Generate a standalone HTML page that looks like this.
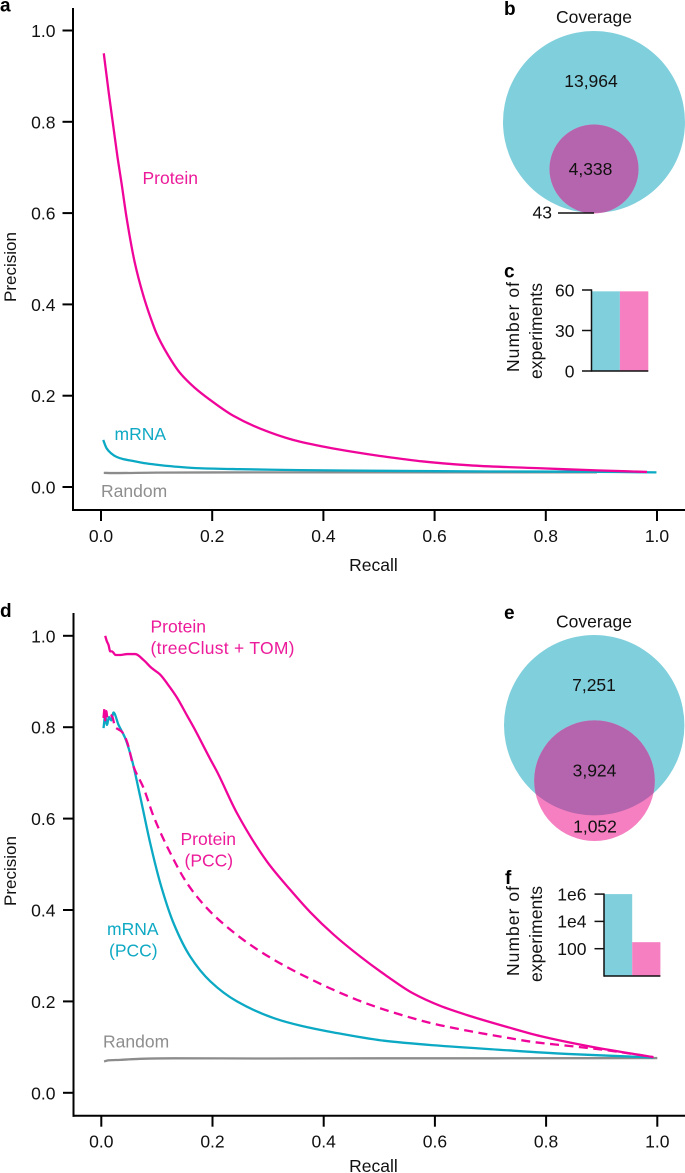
<!DOCTYPE html>
<html lang="en">
<head>
<meta charset="utf-8">
<title>Precision-recall curves</title>
<style>
html,body{margin:0;padding:0;background:#fff;}
svg{display:block;}
text{font-family:"Liberation Sans",Arial,sans-serif;font-size:17.5px;fill:#111;}
.panel{font-weight:bold;font-size:19px;fill:#000;}
.pink{fill:#ec1b9a;}
.teal{fill:#10a9c4;}
.gray{fill:#8e8e8e;}
.ytitle{font-size:17px;}
</style>
</head>
<body>
<svg id="fig" xmlns="http://www.w3.org/2000/svg" width="685" height="1173" viewBox="0 0 685 1173">
  <defs>
    <clipPath id="clip-b"><circle cx="594" cy="122" r="91"/></clipPath>
    <clipPath id="clip-e"><circle cx="594.2" cy="725.2" r="90.2"/></clipPath>
  </defs>

  <text class="panel" x="0" y="11.5">a</text>
  <text class="panel" x="504" y="15">b</text>
  <text class="panel" x="504" y="277.5">c</text>
  <text class="panel" x="0" y="617">d</text>
  <text class="panel" x="504" y="619">e</text>
  <text class="panel" x="505" y="884">f</text>

  <g id="chart-a"></g>
  <g id="chart-d"></g>

  <text class="ytitle" x="16" y="267" text-anchor="middle" transform="rotate(-90 16 267)">Precision</text>
  <text x="373.5" y="571" text-anchor="middle">Recall</text>
  <text class="ytitle" x="16" y="871" text-anchor="middle" transform="rotate(-90 16 871)">Precision</text>
  <text x="373.5" y="1172" text-anchor="middle">Recall</text>

  <text class="pink" x="142.5" y="184">Protein</text>
  <text class="teal" x="114.5" y="440">mRNA</text>
  <text class="gray" x="101" y="497">Random</text>

  <text class="pink" x="150.5" y="632.5">Protein</text>
  <text class="pink" x="150.5" y="654" textLength="144">(treeClust + TOM)</text>
  <text class="pink" x="180.5" y="845">Protein</text>
  <text class="pink" x="184.5" y="866.5">(PCC)</text>
  <text class="teal" x="107" y="935">mRNA</text>
  <text class="teal" x="109" y="956.5">(PCC)</text>
  <text class="gray" x="103" y="1047.5">Random</text>

  <g>
    <text x="594" y="23" text-anchor="middle">Coverage</text>
    <circle cx="594" cy="122" r="91" fill="#80cfdc"/>
    <circle cx="594" cy="169" r="44.5" fill="#f57fc1"/>
    <circle cx="594" cy="169" r="44.5" fill="#b565ad" clip-path="url(#clip-b)"/>
    <text x="591" y="87" text-anchor="middle">13,964</text>
    <text x="590.5" y="175" text-anchor="middle">4,338</text>
    <text x="532.5" y="218.5">43</text>
    <line x1="558" y1="213" x2="594" y2="213" stroke="#111" stroke-width="1.5"/>
  </g>

  <g>
    <text x="594" y="627.5" text-anchor="middle">Coverage</text>
    <circle cx="594.2" cy="725.2" r="90.2" fill="#80cfdc"/>
    <circle cx="594.5" cy="780.7" r="60.3" fill="#f57fc1"/>
    <circle cx="594.5" cy="780.7" r="60.3" fill="#b565ad" clip-path="url(#clip-e)"/>
    <text x="594" y="691" text-anchor="middle">7,251</text>
    <text x="594.5" y="776.5" text-anchor="middle">3,924</text>
    <text x="595" y="832.5" text-anchor="middle">1,052</text>
  </g>

  <g id="chart-c">
    <text x="0" y="0" text-anchor="middle" textLength="90" transform="translate(519 327) rotate(-90)">Number of</text>
    <text x="0" y="0" text-anchor="middle" textLength="96" transform="translate(542 331) rotate(-90)">experiments</text>
  </g>
  <g id="chart-f">
    <text x="0" y="0" text-anchor="middle" textLength="90" transform="translate(519 931) rotate(-90)">Number of</text>
    <text x="0" y="0" text-anchor="middle" textLength="96" transform="translate(542 934) rotate(-90)">experiments</text>
  </g>
</svg>
<script>
// Shared tick values
const curveTicks = [0, 0.2, 0.4, 0.6, 0.8, 1.0];
const curveTickLabels = ["0.0", "0.2", "0.4", "0.6", "0.8", "1.0"];

// Panel a series
const aProteinRecall = [0.005,0.0138,0.0216,0.03,0.037,0.046,0.061,0.076,0.09,0.100,0.120,0.142,0.168,0.196,0.238,0.286,0.346,0.406,0.448,0.502,0.579,0.669,0.79,0.892,0.982];
const aProteinPrecision = [0.95,0.865,0.795,0.72,0.665,0.59,0.49,0.42,0.368,0.336,0.29,0.25,0.218,0.191,0.156,0.128,0.103,0.087,0.078,0.068,0.056,0.047,0.041,0.0365,0.033];
const aMrnaRecall = [0.004,0.01,0.018,0.028,0.04,0.058,0.08,0.106,0.14,0.178,0.25,0.358,0.5,0.7,0.85,0.999];
const aMrnaPrecision = [0.103,0.085,0.074,0.066,0.061,0.057,0.052,0.048,0.044,0.041,0.039,0.037,0.0355,0.034,0.0335,0.032];
const aRandomRecall = [0.005,0.02,0.1,0.3,0.5,0.7,0.892];
const aRandomPrecision = [0.031,0.0305,0.0315,0.032,0.032,0.032,0.032];

// Panel d series
const dTreeRecall = [0.007,0.010,0.013,0.016,0.019,0.026,0.034,0.047,0.061,0.076,0.09,0.106,0.12,0.136,0.154,0.166,0.196,0.208,0.244,0.298,0.340,0.376,0.418,0.466,0.514,0.56,0.61,0.658,0.73,0.79,0.885,0.993];
const dTreePrecision = [1.0,0.988,0.98,0.966,0.966,0.958,0.958,0.96,0.96,0.947,0.93,0.915,0.893,0.865,0.826,0.80,0.73,0.703,0.612,0.506,0.444,0.395,0.346,0.298,0.255,0.218,0.190,0.170,0.144,0.124,0.100,0.078];
const dPccRecall = [0.004,0.006,0.007,0.009,0.011,0.016,0.02,0.025,0.031,0.037,0.046,0.058,0.076,0.094,0.124,0.154,0.19,0.232,0.28,0.334,0.376,0.418,0.478,0.538,0.598,0.658,0.718,0.778,0.838,0.91,0.993];
const dPccPrecision = [0.82,0.842,0.815,0.835,0.82,0.827,0.822,0.80,0.795,0.79,0.769,0.714,0.667,0.605,0.525,0.459,0.404,0.357,0.314,0.275,0.249,0.225,0.195,0.171,0.151,0.136,0.123,0.111,0.103,0.093,0.078];
const dMrnaRecall = [0.004,0.007,0.01,0.014,0.018,0.022,0.031,0.043,0.055,0.07,0.088,0.106,0.13,0.16,0.196,0.244,0.316,0.358,0.418,0.508,0.598,0.718,0.838,0.957,0.993];
const dMrnaPrecision = [0.798,0.825,0.805,0.822,0.815,0.832,0.805,0.776,0.729,0.648,0.546,0.459,0.371,0.298,0.244,0.2,0.161,0.147,0.132,0.114,0.104,0.094,0.085,0.079,0.077];
const dRandomRecall = [0.005,0.012,0.034,0.07,0.13,0.3,0.5,0.7,1.0];
const dRandomPrecision = [0.0685,0.071,0.072,0.0744,0.0755,0.075,0.0755,0.0755,0.076];

// Panel c bars
const cCategories = ["mRNA", "Protein"];
const cValues = [59, 59];
const cTicks = [0, 30, 60];
const cTickLabels = ["0", "30", "60"];

// Panel f bars (log scale)
const fCategories = ["mRNA", "Protein"];
const fValues = [1000000, 300];
const fTicks = [100, 10000, 1000000];
const fTickLabels = ["100", "1e4", "1e6"];

const NS = "http://www.w3.org/2000/svg";
const PINK = "#f0059a", TEAL = "#0ba9c4", GRAY = "#8c8c8c";

function mk(parent, tag, attrs, txt) {
  const el = document.createElementNS(NS, tag);
  for (const k in attrs) el.setAttribute(k, attrs[k]);
  if (txt !== undefined) el.textContent = txt;
  parent.appendChild(el);
  return el;
}

// Monotone cubic path through the projected data points
function smoothPath(px, py) {
  const n = px.length;
  const d = [], m = new Array(n);
  for (let i = 0; i < n - 1; i++) d.push((py[i + 1] - py[i]) / (px[i + 1] - px[i]));
  m[0] = d[0];
  m[n - 1] = d[n - 2];
  for (let i = 1; i < n - 1; i++) {
    if (d[i - 1] * d[i] <= 0) { m[i] = 0; continue; }
    const h0 = px[i] - px[i - 1], h1 = px[i + 1] - px[i];
    const w1 = 2 * h1 + h0, w2 = h1 + 2 * h0;
    m[i] = (w1 + w2) / (w1 / d[i - 1] + w2 / d[i]);
  }
  let s = "M" + px[0].toFixed(2) + " " + py[0].toFixed(2);
  for (let i = 0; i < n - 1; i++) {
    const h = (px[i + 1] - px[i]) / 3;
    s += "C" + (px[i] + h).toFixed(2) + " " + (py[i] + m[i] * h).toFixed(2) + " " +
      (px[i + 1] - h).toFixed(2) + " " + (py[i + 1] - m[i + 1] * h).toFixed(2) + " " +
      px[i + 1].toFixed(2) + " " + py[i + 1].toFixed(2);
  }
  return s;
}

function drawCurve(parent, xs, ys, sx, sy, color, name, dash) {
  const attrs = { d: smoothPath(xs.map(sx), ys.map(sy)), fill: "none", stroke: color, "stroke-width": 2.3, "stroke-linejoin": "round" };
  if (dash) attrs["stroke-dasharray"] = dash;
  const el = mk(parent, "path", attrs);
  
  
}

function drawAxes(parent, sx, sy, axisX, axisY, yTop, suffix) {
  const yAxis = mk(parent, "line", { x1: axisX, x2: axisX, y1: yTop, y2: axisY + 1, stroke: "#000", "stroke-width": 2 });
  
  
  const xAxis = mk(parent, "line", { x1: axisX - 1, x2: 685, y1: axisY, y2: axisY, stroke: "#000", "stroke-width": 2 });
  
  
  curveTicks.forEach((t, i) => {
    const py = sy(t);
    const yt = mk(parent, "line", { x1: axisX - 10.5, x2: axisX, y1: py, y2: py, stroke: "#000", "stroke-width": 2 });
    
    
    const yl = mk(parent, "text", { x: 55.5, y: py + 6.5, "text-anchor": "end" }, curveTickLabels[i]);
    
    
    const px = sx(t);
    const xt = mk(parent, "line", { x1: px, x2: px, y1: axisY, y2: axisY + 11, stroke: "#000", "stroke-width": 2 });
    
    
    const xl = mk(parent, "text", { x: px, y: axisY + 32, "text-anchor": "middle" }, curveTickLabels[i]);
    
    
  });
}

function drawBars(parent, cats, vals, ticks, labels, sy, axisX, axisY, barW, labelRight, suffix) {
  const colors = ["#80cfdc", "#f57fc1"];
  cats.forEach((c, i) => {
    const top = sy(vals[i]);
    const bar = mk(parent, "rect", { x: axisX + barW * i, y: top, width: barW, height: axisY - top, fill: colors[i] });
    
    
  });
  const yAxis = mk(parent, "line", { x1: axisX, x2: axisX, y1: sy(ticks[ticks.length - 1]) - 0.7, y2: axisY + 0.7, stroke: "#111", "stroke-width": 1.5 });
  
  
  const xAxis = mk(parent, "line", { x1: axisX, x2: axisX + barW * cats.length, y1: axisY, y2: axisY, stroke: "#111", "stroke-width": 1.5 });
  
  
  ticks.forEach((t, i) => {
    const py = sy(t);
    const tick = mk(parent, "line", { x1: axisX - 9.5, x2: axisX, y1: py, y2: py, stroke: "#111", "stroke-width": 1.5 });
    
    
    const lab = mk(parent, "text", { x: labelRight, y: py + 6.3, "text-anchor": "end" }, labels[i]);
    
    
  });
}

const xA = r => 101 + 556 * r;
const yA = p => 487 - 456.5 * p;
const xD = r => 101.3 + 556 * r;
const yD = p => 1092.8 - 457 * p;
const yC = v => 371 - (81 / 60) * v;
const yF = v => 976 - 13.65 * Math.log10(v);

const gA = document.getElementById("chart-a");
drawAxes(gA, xA, yA, 73, 510, 8, "a");
drawCurve(gA, aRandomRecall, aRandomPrecision, xA, yA, GRAY, "curve-random-a");
drawCurve(gA, aMrnaRecall, aMrnaPrecision, xA, yA, TEAL, "curve-mrna-a");
drawCurve(gA, aProteinRecall, aProteinPrecision, xA, yA, PINK, "curve-protein-a");

const gD = document.getElementById("chart-d");
drawAxes(gD, xD, yD, 73.5, 1115.7, 613, "d");
drawCurve(gD, dRandomRecall, dRandomPrecision, xD, yD, GRAY, "curve-random-d");
drawCurve(gD, dMrnaRecall, dMrnaPrecision, xD, yD, TEAL, "curve-mrna-pcc");
drawCurve(gD, dPccRecall, dPccPrecision, xD, yD, PINK, "curve-protein-pcc", "9 5.5");
drawCurve(gD, dTreeRecall, dTreePrecision, xD, yD, PINK, "curve-protein-treeclust");

drawBars(document.getElementById("chart-c"), cCategories, cValues, cTicks, cTickLabels, yC, 591.5, 371, 28.4, 574.5, "c");
drawBars(document.getElementById("chart-f"), fCategories, fValues, fTicks, fTickLabels, yF, 604, 976, 28.2, 586.5, "f");
</script>
</body>
</html>
